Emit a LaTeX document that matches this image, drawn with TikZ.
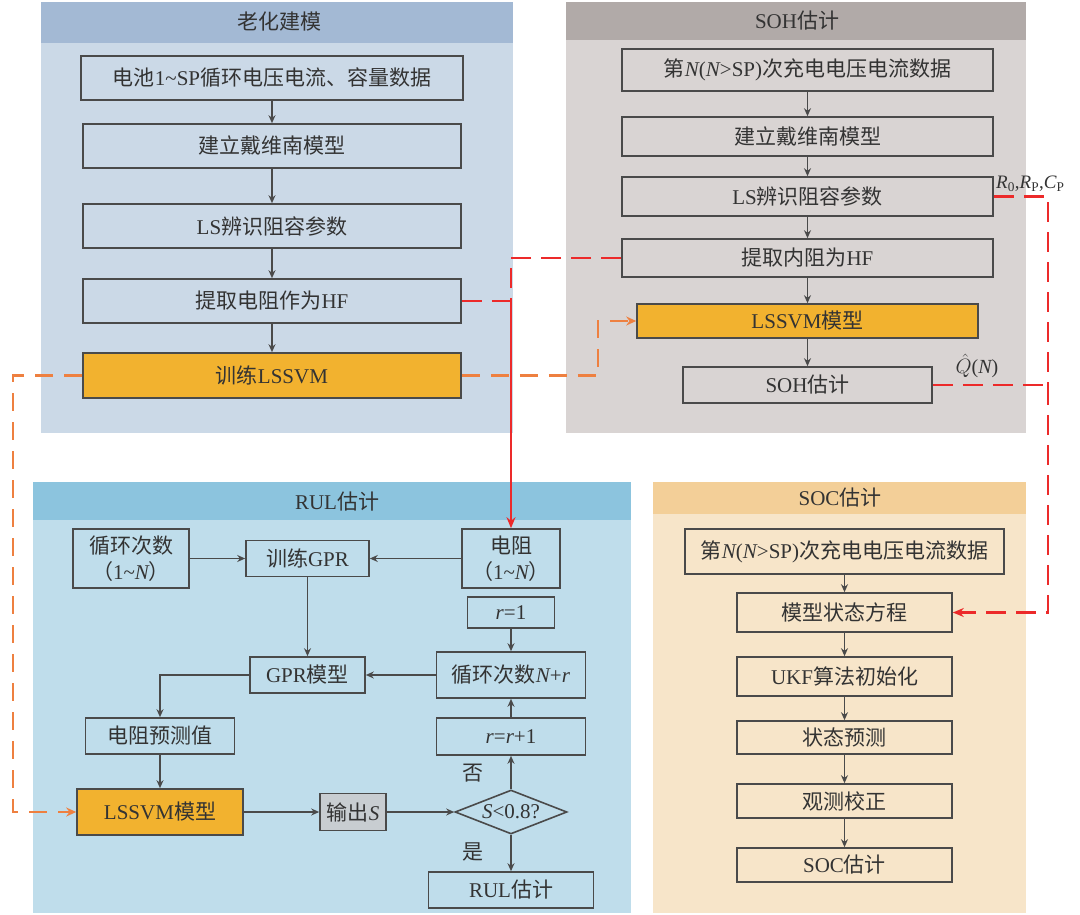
\documentclass[tikz,border=0pt]{standalone}
\usepackage{fontspec}
\setmainfont{Noto Sans CJK SC}
\newfontfamily\latf{Liberation Serif}
\usetikzlibrary{arrows.meta,shapes.geometric}
\newcommand\itl[1]{{\latf\itshape #1}}
\newcommand\rmf[1]{{\latf #1}}
\definecolor{p1h}{HTML}{A3B9D4}
\definecolor{p1b}{HTML}{CBD9E7}
\definecolor{p2h}{HTML}{B1AAA8}
\definecolor{p2b}{HTML}{D9D4D3}
\definecolor{p3h}{HTML}{8CC4DE}
\definecolor{p3b}{HTML}{BFDDEB}
\definecolor{p4h}{HTML}{F3CF98}
\definecolor{p4b}{HTML}{F7E5C9}
\definecolor{orng}{HTML}{F2B22F}
\definecolor{edgec}{HTML}{4A4A4A}
\definecolor{txtc}{HTML}{333333}
\definecolor{rdash}{HTML}{EC2A2A}
\definecolor{odash}{HTML}{EE8040}
\definecolor{sgray}{HTML}{C8CDD1}
\tikzset{
  box/.style={draw=edgec, line width=1.6pt, text=txtc, inner sep=2pt, align=center,
    font=\fontsize{21}{26}\selectfont},
  obox/.style={box, fill=orng},
  hdr/.style={text=txtc, inner sep=0pt, font=\fontsize{21}{26}\selectfont},
  lbl/.style={text=txtc, inner sep=0pt, font=\fontsize{20}{24}\selectfont},
  arr/.style={draw=edgec, line width=1.4pt, -{Stealth[length=8pt,width=7pt]}},
  rd/.style={draw=rdash, line width=2.6pt, dash pattern=on 20pt off 10pt},
  rs/.style={draw=rdash, line width=2.4pt, -{Stealth[length=11pt,width=9pt]}},
  od/.style={draw=odash, line width=2.4pt, dash pattern=on 18pt off 11pt},
}
\begin{document}
\begin{tikzpicture}[x=1pt,y=-1pt]
\useasboundingbox (0,0) rectangle (1080,915);
% panels
\fill[p1b] (41,2) rectangle (513,433);
\fill[p1h] (41,2) rectangle (513,43);
\fill[p2b] (566,2) rectangle (1026,433);
\fill[p2h] (566,2) rectangle (1026,40);
\fill[p3b] (33,482) rectangle (631,913);
\fill[p3h] (33,482) rectangle (631,520);
\fill[p4b] (653,482) rectangle (1026,913);
\fill[p4h] (653,482) rectangle (1026,514);
\node[hdr] (h1) at (279,22) {老化建模};
\node[hdr] (h2) at (797,21) {\rmf{SOH}估计};
\node[hdr] (h3) at (337,502) {\rmf{RUL}估计};
\node[hdr] (h4) at (840,498) {\rmf{SOC}估计};
% panel 1
\node[box, minimum width=382pt, minimum height=44pt] (a1) at (272,78) {电池\rmf{1\textasciitilde SP}循环电压电流、容量数据};
\node[box, minimum width=378pt, minimum height=44pt] (a2) at (272,146) {建立戴维南模型};
\node[box, minimum width=378pt, minimum height=44pt] (a3) at (272,226) {\rmf{LS}辨识阻容参数};
\node[box, minimum width=378pt, minimum height=44pt] (a4) at (272,301) {提取电阻作为\rmf{HF}};
\node[obox, minimum width=378pt, minimum height=45pt] (a5) at (272,375.5) {训练\rmf{LSSVM}};
% panel 2
\node[box, minimum width=371pt, minimum height=42pt] (b1) at (807.5,70) {第\itl{N}\rmf{(}\itl{N}\rmf{>SP)}次充电电压电流数据};
\node[box, minimum width=371pt, minimum height=39pt] (b2) at (807.5,136.5) {建立戴维南模型};
\node[box, minimum width=371pt, minimum height=39pt] (b3) at (807.5,196.5) {\rmf{LS}辨识阻容参数};
\node[box, minimum width=371pt, minimum height=38pt] (b4) at (807.5,258) {提取内阻为\rmf{HF}};
\node[obox, minimum width=341pt, minimum height=34pt] (b5) at (807.5,321) {\rmf{LSSVM}模型};
\node[box, minimum width=249pt, minimum height=36pt] (b6) at (807.5,385) {\rmf{SOH}估计};
% RUL panel
\node[box, minimum width=116pt, minimum height=59pt] (c1) at (131,558.5) {循环次数\\（\rmf{1\textasciitilde}\itl{N}）};
\node[box, minimum width=123pt, minimum height=36pt] (c2) at (307.5,558.5) {训练\rmf{GPR}};
\node[box, minimum width=98pt, minimum height=59pt] (c3) at (511,558.5) {电阻\\（\rmf{1\textasciitilde}\itl{N}）};
\node[box, minimum width=87pt, minimum height=31pt] (c4) at (511,612.5) {\itl{r}\rmf{=1}};
\node[box, minimum width=115pt, minimum height=36pt] (c5) at (307.5,675) {\rmf{GPR}模型};
\node[box, minimum width=149pt, minimum height=46pt] (c6) at (511,675) {循环次数\itl{N}\rmf{+}\itl{r}};
\node[box, minimum width=149pt, minimum height=36pt] (c7) at (160,736) {电阻预测值};
\node[box, minimum width=149pt, minimum height=37pt] (c8) at (511,736.5) {\itl{r}\rmf{=}\itl{r}\rmf{+1}};
\node[obox, minimum width=166pt, minimum height=46pt] (c9) at (160,812) {\rmf{LSSVM}模型};
\node[box, fill=sgray, minimum width=66pt, minimum height=37pt] (c10) at (353,812) {输出\itl{S}};
\node[box, shape=diamond, aspect=2.55, inner sep=0pt, minimum width=112pt, minimum height=44pt] (c11) at (511,812) {\itl{S}\rmf{<0.8?}};
\node[box, minimum width=165pt, minimum height=36pt] (c12) at (511,890) {\rmf{RUL}估计};
\node[lbl, font=\fontsize{21}{26}\selectfont] (no) at (473,773) {否};
\node[lbl, font=\fontsize{21}{26}\selectfont] (yes) at (473,852) {是};
% SOC panel
\node[box, minimum width=319pt, minimum height=45pt] (d1) at (844.5,551.5) {第\itl{N}\rmf{(}\itl{N}\rmf{>SP)}次充电电压电流数据};
\node[box, minimum width=215pt, minimum height=39pt] (d2) at (844.5,612.5) {模型状态方程};
\node[box, minimum width=215pt, minimum height=39pt] (d3) at (844.5,676.5) {\rmf{UKF}算法初始化};
\node[box, minimum width=215pt, minimum height=33pt] (d4) at (844.5,737.5) {状态预测};
\node[box, minimum width=215pt, minimum height=34pt] (d5) at (844.5,801) {观测校正};
\node[box, minimum width=215pt, minimum height=34pt] (d6) at (844.5,865) {\rmf{SOC}估计};
% labels
\node[lbl, anchor=west, font=\fontsize{19}{22}\selectfont] (lrc) at (996,184) {\itl{R}\textsubscript{\rmf{0}}\rmf{,}\itl{R}\textsubscript{\rmf{P}}\rmf{,}\itl{C}\textsubscript{\rmf{P}}};
\node[lbl] (lq) at (977,366) {$\hat{Q}$\rmf{(}\itl{N}\rmf{)}};
% panel arrows
\draw[arr] (a1.south) -- (a2.north);
\draw[arr] (a2.south) -- (a3.north);
\draw[arr] (a3.south) -- (a4.north);
\draw[arr] (a4.south) -- (a5.north);
\draw[arr] (b1.south) -- (b2.north);
\draw[arr] (b2.south) -- (b3.north);
\draw[arr] (b3.south) -- (b4.north);
\draw[arr] (b4.south) -- (b5.north);
\draw[arr] (b5.south) -- (b6.north);
\draw[arr] (d1.south) -- (d2.north);
\draw[arr] (d2.south) -- (d3.north);
\draw[arr] (d3.south) -- (d4.north);
\draw[arr] (d4.south) -- (d5.north);
\draw[arr] (d5.south) -- (d6.north);
% RUL arrows
\draw[arr] (c1.east) -- (c2.west);
\draw[arr] (c3.west) -- (c2.east);
\draw[arr] (c2.south) -- (c5.north);
\draw[arr] (c6.west) -- (c5.east);
\draw[arr] (c4.south) -- (c6.north);
\draw[arr] (c8.north) -- (c6.south);
\draw[arr] (c11.north) -- (c8.south);
\draw[arr] (c5.west) -| (c7.north);
\draw[arr] (c7.south) -- (c9.north);
\draw[arr] (c9.east) -- (c10.west);
\draw[arr] (c10.east) -- (c11.west);
\draw[arr] (c11.south) -- (c12.north);
% red connectors
\coordinate (rj1) at (511,258);
\coordinate (rj2) at (511,301);
\draw[rd] (b4.west) -- (rj1) -- (rj2);
\draw[rd] (a4.east) -- (rj2);
\draw[rs] (rj2) -- (c3.north);
\coordinate (rk1) at (1048,196.5);
\coordinate (rk2) at (1048,385);
\coordinate (rk3) at (1048,612.5);
\draw[rd] (b3.east) -- (rk1) -- (rk2);
\draw[rd] (b6.east) -- (rk2);
\draw[rd, -{Stealth[length=11pt,width=9pt]}] (rk2) -- (rk3) -- (d2.east);
% orange connectors
\coordinate (ol1) at (13,375.5);
\coordinate (ol2) at (13,812);
\draw[od, -{Stealth[length=10pt,width=9pt]}] (a5.west) -- (ol1) -- (ol2) -- (c9.west);
\coordinate (or1) at (598,375.5);
\coordinate (or2) at (598,321);
\draw[od, -{Stealth[length=10pt,width=9pt]}] (a5.east) -- (or1) -- (or2) -- (b5.west);
\end{tikzpicture}
\end{document}
